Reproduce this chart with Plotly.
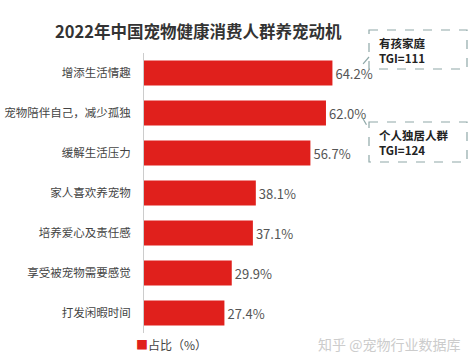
import plotly.graph_objects as go

categories = ["增添生活情趣", "宠物陪伴自己，减少孤独", "缓解生活压力", "家人喜欢养宠物",
              "培养爱心及责任感", "享受被宠物需要感觉", "打发闲暇时间"]
values = [64.2, 62.0, 56.7, 38.1, 37.1, 29.9, 27.4]
value_labels = [f"{v:.1f}%" for v in values]
series_name = "占比（%）"
title_text = "2022年中国宠物健康消费人群养宠动机"
note1 = ["有孩家庭", "TGI=111"]
note2 = ["个人独居人群", "TGI=124"]
watermark = "知乎 @宠物行业数据库"

W, H = 474, 364
L, R, T, B = 144, 20, 53, 31
PW, PH = W - L - R, H - T - B

def px(x):
    return (x - L) / PW

def py(y):
    return (H - B - y) / PH

FONT = "Noto Sans CJK SC"
RED = "#e0201c"

fig = go.Figure()
fig.add_trace(go.Bar(
    y=categories, x=values, orientation="h", name=series_name,
    marker=dict(color=RED, line=dict(width=0)),
    text=value_labels, textposition="outside", cliponaxis=False,
    textfont=dict(family=FONT, size=13, color="#555555"),
    width=0.62, showlegend=False,
))

annotations = [
    dict(text="<b>" + title_text + "</b>", x=px(198), y=py(31), xref="paper", yref="paper",
         showarrow=False, xanchor="center", yanchor="middle",
         font=dict(family=FONT, size=16.5, color="#333333")),
    dict(text="<b>" + note1[0] + "</b>", x=px(377), y=py(43), xref="paper", yref="paper",
         showarrow=False, xanchor="left", yanchor="middle",
         font=dict(family=FONT, size=11.5, color="#222222")),
    dict(text="<b>" + note1[1] + "</b>", x=px(377), y=py(58), xref="paper", yref="paper",
         showarrow=False, xanchor="left", yanchor="middle",
         font=dict(family=FONT, size=11.5, color="#222222")),
    dict(text="<b>" + note2[0] + "</b>", x=px(377), y=py(135), xref="paper", yref="paper",
         showarrow=False, xanchor="left", yanchor="middle",
         font=dict(family=FONT, size=11.5, color="#222222")),
    dict(text="<b>" + note2[1] + "</b>", x=px(377), y=py(150), xref="paper", yref="paper",
         showarrow=False, xanchor="left", yanchor="middle",
         font=dict(family=FONT, size=11.5, color="#222222")),
    dict(text="<span style='color:" + RED + "'>■</span>" + series_name,
         x=px(134), y=py(344), xref="paper", yref="paper",
         showarrow=False, xanchor="left", yanchor="middle",
         font=dict(family=FONT, size=12, color="#444444")),
    dict(text=watermark, x=px(462), y=py(344), xref="paper", yref="paper",
         showarrow=False, xanchor="right", yanchor="middle",
         font=dict(family=FONT, size=14, color="#cccccc")),
]

box_line = dict(color="#8fa8a8", width=1.2, dash="dash")
shapes = [
    dict(type="rect", xref="paper", yref="paper", x0=px(369), x1=px(467), y0=py(30), y1=py(69), line=box_line),
    dict(type="rect", xref="paper", yref="paper", x0=px(369), x1=px(467), y0=py(122), y1=py(162), line=box_line),
    dict(type="line", xref="paper", yref="paper", x0=px(369), x1=px(362), y0=py(57), y1=py(65), line=box_line),
    dict(type="line", xref="paper", yref="paper", x0=px(362), x1=px(370), y0=py(117), y1=py(131), line=box_line),
]

fig.update_layout(
    width=W, height=H,
    margin=dict(l=L, r=R, t=T, b=B, pad=0, autoexpand=False),
    paper_bgcolor="white", plot_bgcolor="white",
    font=dict(family=FONT, size=12, color="#444444"),
    xaxis=dict(range=[0, PW / 2.935], visible=False, fixedrange=True, automargin=False),
    yaxis=dict(autorange="reversed", showline=True, linecolor="#cccccc", linewidth=1,
               ticks="", ticklabelstandoff=10, showgrid=False, automargin=False,
               tickfont=dict(family=FONT, size=11.5, color="#444444")),
    showlegend=False,
    annotations=annotations, shapes=shapes,
    bargap=0.38,
)

fig.write_html("out.html", config={"displayModeBar": False},
               post_script="document.body.style.margin='0';document.body.style.padding='0';document.body.style.overflow='hidden';")
